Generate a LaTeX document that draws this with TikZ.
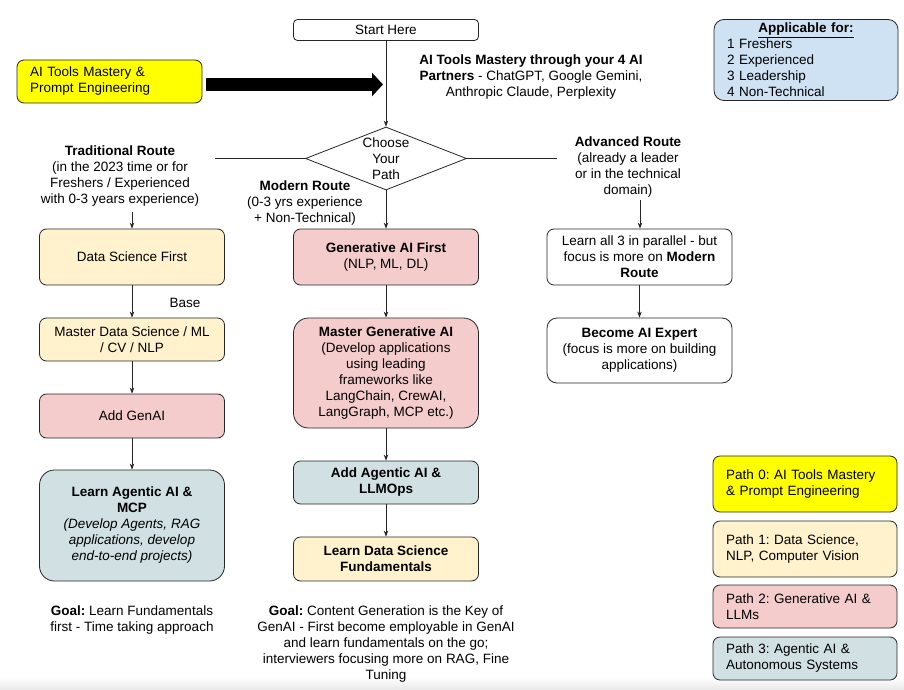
\documentclass[tikz,border=0pt]{standalone}
\usepackage{fontspec}
\setmainfont{Liberation Sans}
\frenchspacing
\usetikzlibrary{shapes.geometric,arrows.meta}
\definecolor{toolsyellow}{HTML}{FFFF00}
\definecolor{dscream}{HTML}{FFF2CC}
\definecolor{genpink}{HTML}{F4CCCC}
\definecolor{agentgray}{HTML}{D0E0E3}
\definecolor{applyblue}{HTML}{CFE2F3}
\definecolor{edge}{HTML}{262626}

\begin{document}
\begin{tikzpicture}[x=1pt,y=-1pt,
        every node/.style={font=\fontsize{13.5}{16}\selectfont},
        box/.style={draw=edge,line width=0.8pt,rounded corners=7pt,minimum width=185pt,align=center,inner sep=2pt},
        legendbox/.style={box,align=left,text width=158pt,inner xsep=13pt,minimum width=184pt},
        txt/.style={align=center,inner sep=0pt},
        link/.style={draw=edge,line width=0.8pt,-{Stealth[length=6pt,width=4.5pt]}}]
        \useasboundingbox (0,0) rectangle (904,690);
        \shade[top color=white,bottom color=black!9] (0,677) rectangle (904,690);

        \node[box,rounded corners=4pt,minimum height=21pt] (start) at (386,30) {Start Here};
        \node[box,fill=toolsyellow,align=left,text width=159pt,inner xsep=13pt,minimum height=43pt] (tools) at (109.5,81.5) {AI Tools Mastery \&\\Prompt Engineering};
        \node[txt] (partners) at (531,77.5) {\textbf{AI Tools Mastery through your 4 AI}\\\textbf{Partners} - ChatGPT, Google Gemini,\\Anthropic Claude, Perplexity};
        \node[box,fill=applyblue,rounded corners=10pt,align=left,text width=158pt,inner xsep=13pt,minimum width=184pt,minimum height=81pt] (apply) at (806,60) {{\centering\underline{\textbf{Applicable for:}}\par}1 Freshers\\2 Experienced\\3 Leadership\\4 Non-Technical};
        \node[draw=edge,line width=0.8pt,shape=diamond,aspect=2.55,inner sep=0pt,minimum width=161pt,minimum height=63pt,align=center] (choose) at (386,158.5) {Choose\\Your\\Path};

        \node[txt] (trad) at (120,176) {\textbf{Traditional Route}\\(in the 2023 time or for\\Freshers / Experienced\\with 0-3 years experience)};
        \node[txt] (modern) at (305,203) {\textbf{Modern Route}\\(0-3 yrs experience\\+ Non-Technical)};
        \node[txt] (adv) at (628,167.5) {\textbf{Advanced Route}\\(already a leader\\or in the technical\\domain)};
        \coordinate (tradend) at (215,158.5);
        \coordinate (advend) at (557,158.5);
        \coordinate (tradtip) at (132,212);
        \coordinate (advtip) at (640,200);
        \coordinate (toolstip) at (383,84.5);

        \node[box,fill=dscream,minimum height=56pt] (dsfirst) at (132,257) {Data Science First};
        \node[txt] (base) at (185,303) {Base};
        \node[box,fill=dscream,minimum height=43pt] (masterds) at (132,339.5) {Master Data Science / ML\\/ CV / NLP};
        \node[box,fill=genpink,minimum height=44pt] (addgenai) at (132,416) {Add GenAI};
        \node[box,fill=agentgray,rounded corners=15pt,minimum height=111pt] (agentic) at (132,525.5) {\textbf{Learn Agentic AI \&}\\\textbf{MCP}\\\textit{(Develop Agents, RAG}\\\textit{applications, develop}\\\textit{end-to-end projects)}};
        \node[txt] (goaltrad) at (132,620.5) {\textbf{Goal:} Learn Fundamentals\\first - Time taking approach};

        \node[box,fill=genpink,minimum height=56pt] (genfirst) at (386,257) {\textbf{Generative AI First}\\(NLP, ML, DL)};
        \node[box,fill=genpink,rounded corners=15pt,minimum height=110pt] (mastergen) at (386,373) {\textbf{Master Generative AI}\\(Develop applications\\using leading\\frameworks like\\LangChain, CrewAI,\\LangGraph, MCP etc.)};
        \node[box,fill=agentgray,minimum height=43pt] (addagentic) at (386,482.5) {\textbf{Add Agentic AI \&}\\\textbf{LLMOps}};
        \node[box,fill=dscream,minimum height=44pt] (learnds) at (386,559) {\textbf{Learn Data Science}\\\textbf{Fundamentals}};
        \node[txt] (goalmodern) at (386,644) {\textbf{Goal:} Content Generation is the Key of\\GenAI - First become employable in GenAI\\and learn fundamentals on the go;\\interviewers focusing more on RAG, Fine\\Tuning};

        \node[box,minimum height=56pt] (learnall) at (639.5,257) {Learn all 3 in parallel - but\\focus is more on \textbf{Modern}\\\textbf{Route}};
        \node[box,rounded corners=10pt,minimum height=65pt] (expert) at (639.5,350.5) {\textbf{Become AI Expert}\\(focus is more on building\\applications)};

        \node[legendbox,fill=toolsyellow,minimum height=56pt] (path0) at (805,484) {Path 0: AI Tools Mastery\\\& Prompt Engineering};
        \node[legendbox,fill=dscream,minimum height=56pt] (path1) at (805,549) {Path 1: Data Science,\\NLP, Computer Vision};
        \node[legendbox,fill=genpink,minimum height=43pt] (path2) at (805,606.5) {Path 2: Generative AI \&\\LLMs};
        \node[legendbox,fill=agentgray,minimum height=43pt] (path3) at (805,658.5) {Path 3: Agentic AI \&\\Autonomous Systems};

        \draw[line width=13pt,-{Triangle[length=11pt,width=23pt]}] ([shift={(4,3)}]tools.east) -- (toolstip);
        \draw[link] (start.south) -- (choose.north);
        \draw[draw=edge,line width=0.8pt] (choose.west) -- (tradend) (choose.east) -- (advend);
        \draw[link] (tradtip) -- (dsfirst.north);
        \draw[link] (dsfirst.south) -- (masterds.north);
        \draw[link] (masterds.south) -- (addgenai.north);
        \draw[link] (addgenai.south) -- (agentic.north);
        \draw[link] (choose.south) -- (genfirst.north);
        \draw[link] (genfirst.south) -- (mastergen.north);
        \draw[link] (mastergen.south) -- (addagentic.north);
        \draw[link] (addagentic.south) -- (learnds.north);
        \draw[link] (advtip) -- (learnall.north -| advtip);
        \draw[link] (learnall.south) -- (expert.north);
    \end{tikzpicture}
\end{document}
